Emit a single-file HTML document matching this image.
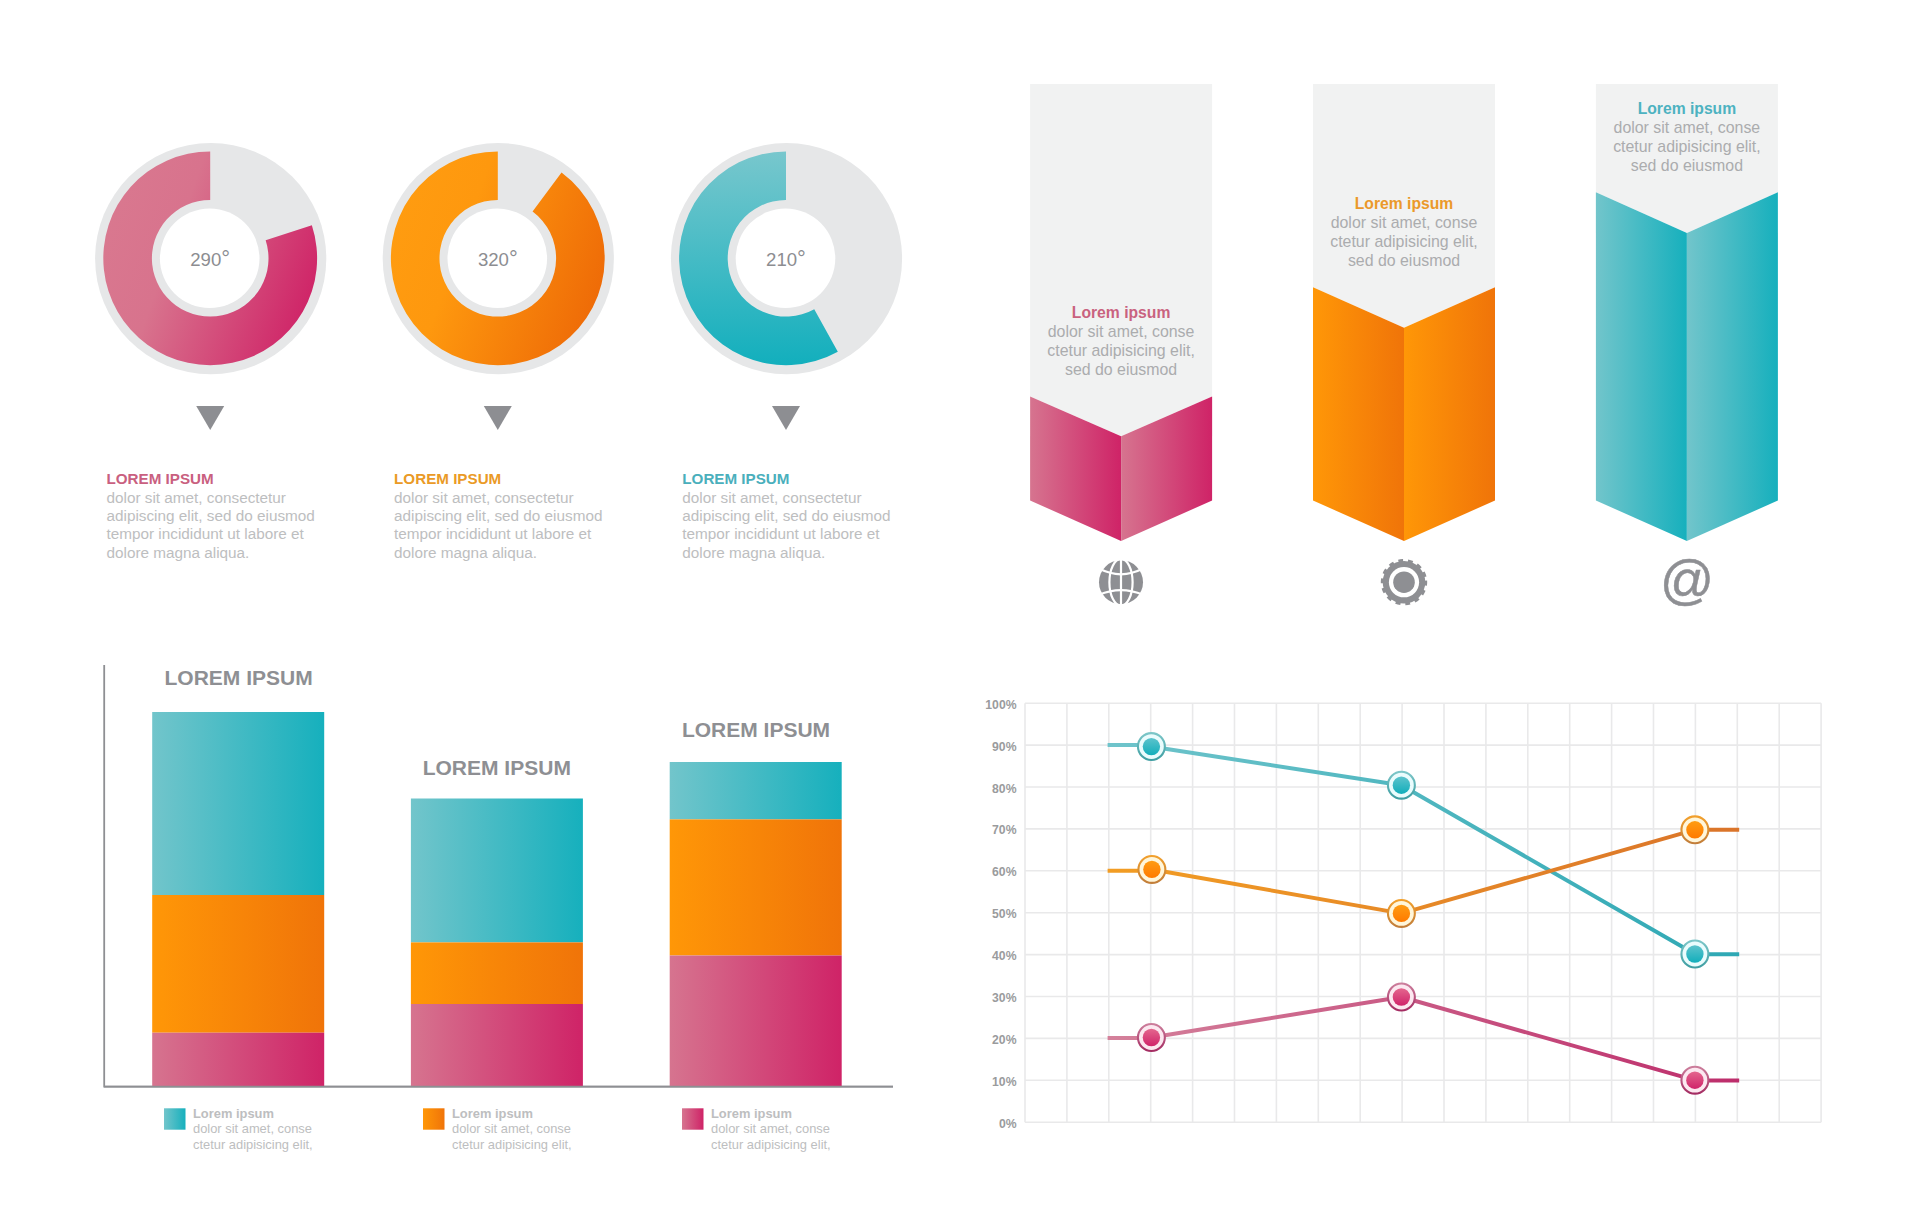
<!DOCTYPE html>
<html lang="en"><head><meta charset="utf-8"><title>Infographic</title>
<style>
html,body{margin:0;padding:0;background:#fff;}
body{width:1920px;height:1229px;overflow:hidden;}
svg{display:block;font-family:"Liberation Sans",Arial,sans-serif;}
.hb{font-weight:bold;}
</style></head><body>
<svg width="1920" height="1229" viewBox="0 0 1920 1229">
<defs>
<linearGradient id="gp" x1="0" y1="0" x2="1" y2="0"><stop offset="0" stop-color="#D6748F"/><stop offset="1" stop-color="#CF2367"/></linearGradient>
<linearGradient id="go" x1="0" y1="0" x2="1" y2="0"><stop offset="0" stop-color="#FF9707"/><stop offset="1" stop-color="#F07409"/></linearGradient>
<linearGradient id="gt" x1="0" y1="0" x2="1" y2="0"><stop offset="0" stop-color="#72C5CB"/><stop offset="1" stop-color="#16B0BD"/></linearGradient>
<linearGradient id="gtv" x1="0" y1="0" x2="0" y2="1"><stop offset="0" stop-color="#78C7CD"/><stop offset="1" stop-color="#12AFBD"/></linearGradient>

<linearGradient id="dgp" x1="0" y1="0.3" x2="1" y2="0.66"><stop offset="0" stop-color="#D9788F"/><stop offset="0.33" stop-color="#D8738D"/><stop offset="1" stop-color="#CF2367"/></linearGradient>
<linearGradient id="dgo" x1="0" y1="0.3" x2="1" y2="0.66"><stop offset="0" stop-color="#FF9C10"/><stop offset="0.33" stop-color="#FE980E"/><stop offset="1" stop-color="#EE6A07"/></linearGradient>
</defs>
<rect width="1920" height="1229" fill="#fff"/>
<circle cx="210.7" cy="258.6" r="115.6" fill="#E6E7E8"/>
<path d="M311.87,225.27A106.9,106.9 0 1 1 210.20,151.40L210.20,200.00A58.3,58.3 0 1 0 265.65,240.28Z" fill="url(#dgp)"/>
<circle cx="209.7" cy="258.3" r="49.8" fill="#fff"/>
<text x="210.2" y="266" font-size="18.6" fill="#8C8D91" text-anchor="middle">290<tspan font-size="22" dy="0.4">°</tspan></text>
<path d="M196.2,406H224.2L210.2,430Z" fill="#8D8E92"/>
<text x="106.49999999999999" y="484" font-size="15.2" class="hb" fill="#C9607F">LOREM IPSUM</text>
<text x="106.49999999999999" y="502.5" font-size="15.3" fill="#BDBEC0">dolor sit amet, consectetur</text>
<text x="106.49999999999999" y="520.9" font-size="15.3" fill="#BDBEC0">adipiscing elit, sed do eiusmod</text>
<text x="106.49999999999999" y="539.3" font-size="15.3" fill="#BDBEC0">tempor incididunt ut labore et</text>
<text x="106.49999999999999" y="557.7" font-size="15.3" fill="#BDBEC0">dolore magna aliqua.</text>
<circle cx="498.3" cy="258.6" r="115.6" fill="#E6E7E8"/>
<path d="M561.54,172.48A106.9,106.9 0 1 1 497.80,151.40L497.80,200.00A58.3,58.3 0 1 0 532.56,211.50Z" fill="url(#dgo)"/>
<circle cx="497.3" cy="258.3" r="49.8" fill="#fff"/>
<text x="497.8" y="266" font-size="18.6" fill="#8C8D91" text-anchor="middle">320<tspan font-size="22" dy="0.4">°</tspan></text>
<path d="M483.8,406H511.8L497.8,430Z" fill="#8D8E92"/>
<text x="394.1" y="484" font-size="15.2" class="hb" fill="#EA9A26">LOREM IPSUM</text>
<text x="394.1" y="502.5" font-size="15.3" fill="#BDBEC0">dolor sit amet, consectetur</text>
<text x="394.1" y="520.9" font-size="15.3" fill="#BDBEC0">adipiscing elit, sed do eiusmod</text>
<text x="394.1" y="539.3" font-size="15.3" fill="#BDBEC0">tempor incididunt ut labore et</text>
<text x="394.1" y="557.7" font-size="15.3" fill="#BDBEC0">dolore magna aliqua.</text>
<circle cx="786.5" cy="258.6" r="115.6" fill="#E6E7E8"/>
<path d="M837.83,351.80A106.9,106.9 0 1 1 786.00,151.40L786.00,200.00A58.3,58.3 0 1 0 814.26,309.29Z" fill="url(#gtv)"/>
<circle cx="785.5" cy="258.3" r="49.8" fill="#fff"/>
<text x="786" y="266" font-size="18.6" fill="#8C8D91" text-anchor="middle">210<tspan font-size="22" dy="0.4">°</tspan></text>
<path d="M772,406H800L786,430Z" fill="#8D8E92"/>
<text x="682.3" y="484" font-size="15.2" class="hb" fill="#4AAFBC">LOREM IPSUM</text>
<text x="682.3" y="502.5" font-size="15.3" fill="#BDBEC0">dolor sit amet, consectetur</text>
<text x="682.3" y="520.9" font-size="15.3" fill="#BDBEC0">adipiscing elit, sed do eiusmod</text>
<text x="682.3" y="539.3" font-size="15.3" fill="#BDBEC0">tempor incididunt ut labore et</text>
<text x="682.3" y="557.7" font-size="15.3" fill="#BDBEC0">dolore magna aliqua.</text>
<path d="M1030.1,84H1212.1V396.4L1121.1,436.2L1030.1,396.4Z" fill="#F1F2F2"/>
<path d="M1030.1,396.4L1121.1,436.2V541L1030.1,500.5Z" fill="url(#gp)"/>
<path d="M1121.1,436.2L1212.1,396.4V500.5L1121.1,541Z" fill="url(#gp)"/>
<text x="1121.1" y="318.1" font-size="15.7" class="hb" fill="#C9627F" text-anchor="middle">Lorem ipsum</text>
<text x="1121.1" y="337.1" font-size="15.9" fill="#ABACAE" text-anchor="middle">dolor sit amet, conse</text>
<text x="1121.1" y="356.1" font-size="15.9" fill="#ABACAE" text-anchor="middle">ctetur adipisicing elit,</text>
<text x="1121.1" y="375.1" font-size="15.9" fill="#ABACAE" text-anchor="middle">sed do eiusmod</text>
<path d="M1313,84H1495V287.2L1404.0,327.7L1313,287.2Z" fill="#F1F2F2"/>
<path d="M1313,287.2L1404.0,327.7V541L1313,500.5Z" fill="url(#go)"/>
<path d="M1404.0,327.7L1495,287.2V500.5L1404.0,541Z" fill="url(#go)"/>
<text x="1404.0" y="208.8" font-size="15.7" class="hb" fill="#EB992A" text-anchor="middle">Lorem ipsum</text>
<text x="1404.0" y="227.8" font-size="15.9" fill="#ABACAE" text-anchor="middle">dolor sit amet, conse</text>
<text x="1404.0" y="246.8" font-size="15.9" fill="#ABACAE" text-anchor="middle">ctetur adipisicing elit,</text>
<text x="1404.0" y="265.8" font-size="15.9" fill="#ABACAE" text-anchor="middle">sed do eiusmod</text>
<path d="M1595.9,84H1777.9V192.3L1686.9,232.9L1595.9,192.3Z" fill="#F1F2F2"/>
<path d="M1595.9,192.3L1686.9,232.9V541L1595.9,500.5Z" fill="url(#gt)"/>
<path d="M1686.9,232.9L1777.9,192.3V500.5L1686.9,541Z" fill="url(#gt)"/>
<text x="1686.9" y="113.6" font-size="15.7" class="hb" fill="#4DB2C1" text-anchor="middle">Lorem ipsum</text>
<text x="1686.9" y="132.6" font-size="15.9" fill="#ABACAE" text-anchor="middle">dolor sit amet, conse</text>
<text x="1686.9" y="151.6" font-size="15.9" fill="#ABACAE" text-anchor="middle">ctetur adipisicing elit,</text>
<text x="1686.9" y="170.6" font-size="15.9" fill="#ABACAE" text-anchor="middle">sed do eiusmod</text>
<g><circle cx="1121" cy="582.2" r="22" fill="#8E8F93"/><g fill="none" stroke="#fff" stroke-width="2.2"><path d="M1121,559.2V605.2"/><ellipse cx="1121" cy="582.2" rx="11.6" ry="23.4"/><path d="M1099,568.6Q1121,580.0 1143,568.6"/><path d="M1099,594.8000000000001Q1121,585.6 1143,594.8000000000001"/></g></g>
<g><circle cx="1404" cy="582.2" r="21.5" fill="none" stroke="#8E8F93" stroke-width="3.4" stroke-dasharray="4.825" transform="rotate(-4 1404 582.2)"/><circle cx="1404" cy="582.2" r="21.3" fill="#8E8F93"/><circle cx="1404" cy="582.2" r="15.1" fill="#fff"/><circle cx="1404" cy="582.2" r="10.8" fill="#8E8F93"/></g>
<text x="1687" y="597.6" font-size="53.3" fill="#8E8F93" stroke="#8E8F93" stroke-width="0.5" text-anchor="middle">@</text>
<path d="M104.2,665V1086.6H893" fill="none" stroke="#8E8F93" stroke-width="1.8"/>
<rect x="152.2" y="712" width="172" height="183" fill="url(#gt)"/>
<rect x="152.2" y="895" width="172" height="137.70000000000005" fill="url(#go)"/>
<rect x="152.2" y="1032.7" width="172" height="53.899999999999864" fill="url(#gp)"/>
<text x="238.6" y="684.8" font-size="21" class="hb" fill="#8E8F93" text-anchor="middle">LOREM IPSUM</text>
<rect x="410.9" y="798.5" width="172" height="143.89999999999998" fill="url(#gt)"/>
<rect x="410.9" y="942.4" width="172" height="61.60000000000002" fill="url(#go)"/>
<rect x="410.9" y="1004" width="172" height="82.59999999999991" fill="url(#gp)"/>
<text x="496.8" y="774.6" font-size="21" class="hb" fill="#8E8F93" text-anchor="middle">LOREM IPSUM</text>
<rect x="669.7" y="762" width="172" height="57.39999999999998" fill="url(#gt)"/>
<rect x="669.7" y="819.4" width="172" height="136.10000000000002" fill="url(#go)"/>
<rect x="669.7" y="955.5" width="172" height="131.0999999999999" fill="url(#gp)"/>
<text x="756" y="736.6" font-size="21" class="hb" fill="#8E8F93" text-anchor="middle">LOREM IPSUM</text>
<path d="M104,1086.6H893" fill="none" stroke="#8E8F93" stroke-width="1.8"/>
<rect x="164" y="1108.3" width="21.5" height="21.4" fill="url(#gt)"/>
<text x="193" y="1118" font-size="12.9" class="hb" fill="#BDBEC0">Lorem ipsum</text>
<text x="193" y="1133.3" font-size="12.9" fill="#BDBEC0">dolor sit amet, conse</text>
<text x="193" y="1148.8" font-size="12.9" fill="#BDBEC0">ctetur adipisicing elit,</text>
<rect x="423" y="1108.3" width="21.5" height="21.4" fill="url(#go)"/>
<text x="452" y="1118" font-size="12.9" class="hb" fill="#BDBEC0">Lorem ipsum</text>
<text x="452" y="1133.3" font-size="12.9" fill="#BDBEC0">dolor sit amet, conse</text>
<text x="452" y="1148.8" font-size="12.9" fill="#BDBEC0">ctetur adipisicing elit,</text>
<rect x="682" y="1108.3" width="21.5" height="21.4" fill="url(#gp)"/>
<text x="711" y="1118" font-size="12.9" class="hb" fill="#BDBEC0">Lorem ipsum</text>
<text x="711" y="1133.3" font-size="12.9" fill="#BDBEC0">dolor sit amet, conse</text>
<text x="711" y="1148.8" font-size="12.9" fill="#BDBEC0">ctetur adipisicing elit,</text>
<path d="M1025.0,703.2V1122.2M1066.9,703.2V1122.2M1108.8,703.2V1122.2M1150.7,703.2V1122.2M1192.6,703.2V1122.2M1234.5,703.2V1122.2M1276.4,703.2V1122.2M1318.3,703.2V1122.2M1360.2,703.2V1122.2M1402.1,703.2V1122.2M1444.0,703.2V1122.2M1485.9,703.2V1122.2M1527.8,703.2V1122.2M1569.7,703.2V1122.2M1611.6,703.2V1122.2M1653.5,703.2V1122.2M1695.4,703.2V1122.2M1737.3,703.2V1122.2M1779.2,703.2V1122.2M1821.1,703.2V1122.2M1025,703.2H1821.1M1025,745.1H1821.1M1025,787.0H1821.1M1025,828.9H1821.1M1025,870.8H1821.1M1025,912.7H1821.1M1025,954.6H1821.1M1025,996.5H1821.1M1025,1038.4H1821.1M1025,1080.3H1821.1M1025,1122.2H1821.1" fill="none" stroke="#E9E9EA" stroke-width="1.6"/>
<text x="1016.5" y="708.7" font-size="12.2" class="hb" fill="#9A9B9D" text-anchor="end">100%</text>
<text x="1016.5" y="750.6" font-size="12.2" class="hb" fill="#9A9B9D" text-anchor="end">90%</text>
<text x="1016.5" y="792.5" font-size="12.2" class="hb" fill="#9A9B9D" text-anchor="end">80%</text>
<text x="1016.5" y="834.4" font-size="12.2" class="hb" fill="#9A9B9D" text-anchor="end">70%</text>
<text x="1016.5" y="876.3" font-size="12.2" class="hb" fill="#9A9B9D" text-anchor="end">60%</text>
<text x="1016.5" y="918.2" font-size="12.2" class="hb" fill="#9A9B9D" text-anchor="end">50%</text>
<text x="1016.5" y="960.1" font-size="12.2" class="hb" fill="#9A9B9D" text-anchor="end">40%</text>
<text x="1016.5" y="1002.0" font-size="12.2" class="hb" fill="#9A9B9D" text-anchor="end">30%</text>
<text x="1016.5" y="1043.9" font-size="12.2" class="hb" fill="#9A9B9D" text-anchor="end">20%</text>
<text x="1016.5" y="1085.8" font-size="12.2" class="hb" fill="#9A9B9D" text-anchor="end">10%</text>
<text x="1016.5" y="1127.7" font-size="12.2" class="hb" fill="#9A9B9D" text-anchor="end">0%</text>
<defs>
<linearGradient id="lt" gradientUnits="userSpaceOnUse" x1="1108" y1="0" x2="1739" y2="0"><stop offset="0" stop-color="#6FC4CB"/><stop offset="1" stop-color="#2EA8B4"/></linearGradient>
<linearGradient id="dt" x1="0" y1="0" x2="0" y2="1"><stop offset="0" stop-color="#5CC3CC"/><stop offset="1" stop-color="#12AEBB"/></linearGradient>
<linearGradient id="rt" x1="0" y1="0" x2="0" y2="1"><stop offset="0" stop-color="#7CC6C8"/><stop offset="1" stop-color="#3F9EA2"/></linearGradient>
<linearGradient id="lo" gradientUnits="userSpaceOnUse" x1="1108" y1="0" x2="1739" y2="0"><stop offset="0" stop-color="#F29D24"/><stop offset="1" stop-color="#DA742A"/></linearGradient>
<linearGradient id="do" x1="0" y1="0" x2="0" y2="1"><stop offset="0" stop-color="#FF9C12"/><stop offset="1" stop-color="#FF7A00"/></linearGradient>
<linearGradient id="ro" x1="0" y1="0" x2="0" y2="1"><stop offset="0" stop-color="#F2A02C"/><stop offset="1" stop-color="#C27E3A"/></linearGradient>
<linearGradient id="lp" gradientUnits="userSpaceOnUse" x1="1108" y1="0" x2="1739" y2="0"><stop offset="0" stop-color="#D4819B"/><stop offset="1" stop-color="#BD2D6B"/></linearGradient>
<linearGradient id="dp" x1="0" y1="0" x2="0" y2="1"><stop offset="0" stop-color="#E4668E"/><stop offset="1" stop-color="#D0246A"/></linearGradient>
<linearGradient id="rp" x1="0" y1="0" x2="0" y2="1"><stop offset="0" stop-color="#CC7E9C"/><stop offset="1" stop-color="#A42C62"/></linearGradient>
</defs>
<path d="M1107.6,744.9L1142.4,744.9L1160.4,748.0L1401.4,785.2L1691.9,952.3L1703.9,954.2L1739.2,954.2" fill="none" stroke="url(#lt)" stroke-width="4" stroke-linejoin="round"/>
<path d="M1107.6,870.7L1142.9,870.7L1160.9,871.0L1401.4,913.4L1691.9,830.7L1703.9,829.8L1739.2,829.8" fill="none" stroke="url(#lo)" stroke-width="4" stroke-linejoin="round"/>
<path d="M1107.6,1038.0L1142.4,1038.0L1160.4,1036.0L1401.4,997.0L1691.9,1079.3L1703.9,1080.6L1739.2,1080.6" fill="none" stroke="url(#lp)" stroke-width="4" stroke-linejoin="round"/>
<circle cx="1151.4" cy="746.6" r="13.45" fill="#EAFCFD" stroke="url(#rt)" stroke-width="2.1"/>
<circle cx="1151.4" cy="746.6" r="8.7" fill="url(#dt)"/>
<circle cx="1401.4" cy="785.2" r="13.45" fill="#EAFCFD" stroke="url(#rt)" stroke-width="2.1"/>
<circle cx="1401.4" cy="785.2" r="8.7" fill="url(#dt)"/>
<circle cx="1694.9" cy="954.0" r="13.45" fill="#EAFCFD" stroke="url(#rt)" stroke-width="2.1"/>
<circle cx="1694.9" cy="954.0" r="8.7" fill="url(#dt)"/>
<circle cx="1151.9" cy="869.4" r="13.45" fill="#FFF6DA" stroke="url(#ro)" stroke-width="2.1"/>
<circle cx="1151.9" cy="869.4" r="8.7" fill="url(#do)"/>
<circle cx="1401.4" cy="913.4" r="13.45" fill="#FFF6DA" stroke="url(#ro)" stroke-width="2.1"/>
<circle cx="1401.4" cy="913.4" r="8.7" fill="url(#do)"/>
<circle cx="1694.9" cy="829.8" r="13.45" fill="#FFF6DA" stroke="url(#ro)" stroke-width="2.1"/>
<circle cx="1694.9" cy="829.8" r="8.7" fill="url(#do)"/>
<circle cx="1151.4" cy="1037.5" r="13.45" fill="#FCE8F0" stroke="url(#rp)" stroke-width="2.1"/>
<circle cx="1151.4" cy="1037.5" r="8.7" fill="url(#dp)"/>
<circle cx="1401.4" cy="997.0" r="13.45" fill="#FCE8F0" stroke="url(#rp)" stroke-width="2.1"/>
<circle cx="1401.4" cy="997.0" r="8.7" fill="url(#dp)"/>
<circle cx="1694.9" cy="1080.2" r="13.45" fill="#FCE8F0" stroke="url(#rp)" stroke-width="2.1"/>
<circle cx="1694.9" cy="1080.2" r="8.7" fill="url(#dp)"/>
</svg></body></html>
